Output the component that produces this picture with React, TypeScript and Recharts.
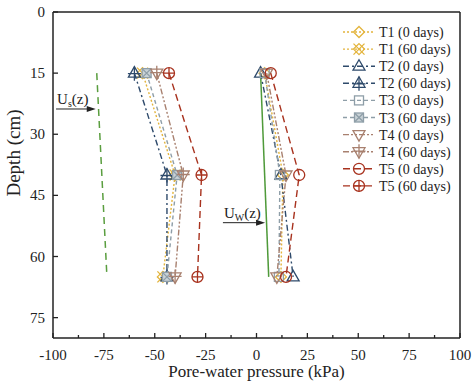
import React from 'react';
import { ComposedChart, Scatter, XAxis, YAxis, ReferenceLine, Legend } from 'recharts';

const FONT = '"Liberation Serif", "Times New Roman", serif';

const depths = [15, 40, 65];

// pore-water pressure (kPa) at each depth
const t1Day0 = [4, 13, 12];
const t1Day60 = [-56, -40, -46];
const t2Day0 = [2, 12, 18];
const t2Day60 = [-60, -44, -44];
const t3Day0 = [4, 11.5, 11];
const t3Day60 = [-54, -39, -44];
const t4Day0 = [5, 14.5, 10];
const t4Day60 = [-49, -36, -40];
const t5Day0 = [7, 21, 14.5];
const t5Day60 = [-43, -27, -29];

// U_s(z) and U_w(z) reference profiles
const usLine = [{ p: -78.5, d: 15 }, { p: -73.5, d: 65 }];
const uwLine = [{ p: 2, d: 15 }, { p: 6, d: 65 }];

const xTicks = [-100, -87.5, -75, -62.5, -50, -37.5, -25, -12.5, 0, 12.5, 25, 37.5, 50, 62.5, 75, 87.5, 100];
const yTicks = [0, 15, 30, 45, 60, 75];

type MarkerKind = 'diamond' | 'up' | 'square' | 'down' | 'circle';

interface SeriesDef {
  name: string;
  values: number[];
  color: string;
  dash: string;
  marker: MarkerKind;
  crossed: boolean;
}

const series: SeriesDef[] = [
  { name: 'T1 (0 days)', values: t1Day0, color: '#E3B43C', dash: '2 2', marker: 'diamond', crossed: false },
  { name: 'T1 (60 days)', values: t1Day60, color: '#E3B43C', dash: '2 2', marker: 'diamond', crossed: true },
  { name: 'T2 (0 days)', values: t2Day0, color: '#2E4A6B', dash: '6 3 2 3', marker: 'up', crossed: false },
  { name: 'T2 (60 days)', values: t2Day60, color: '#2E4A6B', dash: '6 3 2 3', marker: 'up', crossed: true },
  { name: 'T3 (0 days)', values: t3Day0, color: '#8E9EA8', dash: '4 3', marker: 'square', crossed: false },
  { name: 'T3 (60 days)', values: t3Day60, color: '#8E9EA8', dash: '4 3', marker: 'square', crossed: true },
  { name: 'T4 (0 days)', values: t4Day0, color: '#A8806F', dash: '6 2 2 2 2 2', marker: 'down', crossed: false },
  { name: 'T4 (60 days)', values: t4Day60, color: '#A8806F', dash: '6 2 2 2 2 2', marker: 'down', crossed: true },
  { name: 'T5 (0 days)', values: t5Day0, color: '#A8321E', dash: '7 4', marker: 'circle', crossed: false },
  { name: 'T5 (60 days)', values: t5Day60, color: '#A8321E', dash: '7 4', marker: 'circle', crossed: true },
];

const Marker: React.FC<{ cx?: number; cy?: number; kind: MarkerKind; crossed: boolean; color: string }> = ({ cx = 0, cy = 0, kind, crossed, color }) => {
  const s = 5.5;
  const common = { stroke: color, strokeWidth: 1.3, fill: 'none' };
  if (kind === 'diamond') {
    return (
      <g>
        <polygon points={`${cx},${cy - s} ${cx + s},${cy} ${cx},${cy + s} ${cx - s},${cy}`} {...common} />
        {crossed && <path d={`M${cx - s} ${cy - s}L${cx + s} ${cy + s}M${cx + s} ${cy - s}L${cx - s} ${cy + s}`} {...common} />}
      </g>
    );
  }
  if (kind === 'up') {
    return (
      <g>
        <polygon points={`${cx},${cy - s - 1} ${cx + s + 0.5},${cy + s - 1.5} ${cx - s - 0.5},${cy + s - 1.5}`} {...common} />
        {crossed && <path d={`M${cx} ${cy - s - 1}L${cx} ${cy + s + 2}M${cx - s - 1} ${cy + 0.5}L${cx + s + 1} ${cy + 0.5}`} {...common} />}
      </g>
    );
  }
  if (kind === 'down') {
    return (
      <g>
        <polygon points={`${cx},${cy + s + 1} ${cx + s + 0.5},${cy - s + 1.5} ${cx - s - 0.5},${cy - s + 1.5}`} {...common} />
        {crossed && <path d={`M${cx} ${cy - s - 2}L${cx} ${cy + s + 1}M${cx - s - 1} ${cy - 0.5}L${cx + s + 1} ${cy - 0.5}`} {...common} />}
      </g>
    );
  }
  if (kind === 'square') {
    return (
      <g>
        <rect x={cx - 4.5} y={cy - 4.5} width={9} height={9} {...common} fill={crossed ? '#C9D2D7' : 'none'} />
        {crossed && <path d={`M${cx - 4.5} ${cy - 4.5}L${cx + 4.5} ${cy + 4.5}M${cx + 4.5} ${cy - 4.5}L${cx - 4.5} ${cy + 4.5}`} {...common} />}
      </g>
    );
  }
  return (
    <g>
      <circle cx={cx} cy={cy} r={s} {...common} />
      {crossed && <path d={`M${cx} ${cy - s}L${cx} ${cy + s}M${cx - s} ${cy}L${cx + s} ${cy}`} {...common} />}
    </g>
  );
};

const XTick = (props: any) => {
  const { x, y, payload } = props;
  const major = payload.value % 25 === 0;
  return (
    <g>
      <line x1={x} y1={y} x2={x} y2={y - (major ? 5 : 3)} stroke="#222" strokeWidth={1.3} />
      {major && (
        <text x={x} y={y + 22} textAnchor="middle" fontSize={15} fontFamily={FONT} fill="#222">
          {payload.value}
        </text>
      )}
    </g>
  );
};

const YTick = (props: any) => {
  const { x, y, payload } = props;
  return (
    <g>
      <line x1={x} y1={y} x2={x + 5} y2={y} stroke="#222" strokeWidth={1.3} />
      <text x={x - 8} y={y + 5} textAnchor="end" fontSize={15} fontFamily={FONT} fill="#222">
        {payload.value}
      </text>
    </g>
  );
};

const Arrow = (props: any) => {
  const { x1, y1, x2, y2, sub } = props;
  return (
    <g>
      <line x1={x1} y1={y1} x2={x2 - 6} y2={y2} stroke="#222" strokeWidth={1} />
      <polygon points={`${x2},${y2} ${x2 - 9},${y2 - 3} ${x2 - 9},${y2 + 3}`} fill="#222" />
      <text x={x1 + 1} y={y1 - 5} fontSize={15} fontFamily={FONT} fill="#222">
        U<tspan fontSize={10} dy={3}>{sub}</tspan>
        <tspan dy={-3} fontSize={15}>(z)</tspan>
      </text>
    </g>
  );
};

const LegendBox = () => (
  <svg width={132} height={176} style={{ display: 'block' }}>
    {series.map((s, i) => {
      const y = 9 + i * 17.1;
      return (
        <g key={s.name}>
          <line x1={5} y1={y} x2={37} y2={y} stroke={s.color} strokeWidth={1.4} strokeDasharray={s.dash} />
          <Marker cx={21} cy={y} kind={s.marker} crossed={s.crossed} color={s.color} />
          <text x={41} y={y + 5} fontSize={14} fontFamily={FONT} fill="#222">
            {s.name}
          </text>
        </g>
      );
    })}
  </svg>
);

const App: React.FC = () => {
  return (
    <div style={{ position: 'absolute', left: 0, top: 0, width: 474, height: 381, background: '#fff' }}>
      <ComposedChart width={474} height={381} margin={{ top: 12, right: 14, left: 0, bottom: 0 }}>
        <XAxis
          dataKey="p"
          type="number"
          domain={[-100, 100]}
          ticks={xTicks}
          interval={0}
          tickSize={0}
          tickMargin={0}
          tickLine={false}
          tick={<XTick />}
          height={43}
          axisLine={{ stroke: '#222', strokeWidth: 1.5 }}
          label={{ value: 'Pore-water pressure (kPa)', position: 'insideBottom', offset: 4, fontSize: 17, fontFamily: FONT, fill: '#222' }}
        />
        <YAxis
          dataKey="d"
          type="number"
          domain={[0, 80]}
          reversed
          ticks={yTicks}
          interval={0}
          tickSize={0}
          tickMargin={0}
          tickLine={false}
          tick={<YTick />}
          width={53}
          axisLine={{ stroke: '#222', strokeWidth: 1.5 }}
          label={{
            content: (p: any) => {
              const vb = p.viewBox;
              const cx = 13;
              const cy = vb.y + vb.height / 2 - 22;
              return (
                <text x={cx} y={cy} transform={`rotate(-90 ${cx} ${cy})`} textAnchor="middle" dominantBaseline="central" fontSize={19} fontFamily={FONT} fill="#222">
                  Depth (cm)
                </text>
              );
            },
          }}
        />
        <ReferenceLine y={0} stroke="#222" strokeWidth={1.5} />
        <ReferenceLine x={100} stroke="#222" strokeWidth={1.5} />

        <Scatter
          data={usLine}
          fill="#5A9E3F"
          line={{ stroke: '#5A9E3F', strokeWidth: 1.5, strokeDasharray: '7 5' }}
          shape={() => <g />}
          isAnimationActive={false}
        />
        <Scatter
          data={uwLine}
          fill="#4F9A3A"
          line={{ stroke: '#4F9A3A', strokeWidth: 1.5 }}
          shape={() => <g />}
          isAnimationActive={false}
        />

        {series.map((s) => (
          <Scatter
            key={s.name}
            name={s.name}
            data={depths.map((d, i) => ({ p: s.values[i], d }))}
            fill={s.color}
            line={{ stroke: s.color, strokeWidth: 1.4, strokeDasharray: s.dash }}
            shape={(props: any) => <Marker cx={props.cx} cy={props.cy} kind={s.marker} crossed={s.crossed} color={s.color} />}
            isAnimationActive={false}
          />
        ))}

        <ReferenceLine
          segment={[{ x: -98.5, y: 23.8 }, { x: -79, y: 23.8 }]}
          shape={(p: any) => <Arrow {...p} sub="s" />}
        />
        <ReferenceLine
          segment={[{ x: -16.5, y: 51.7 }, { x: 4.2, y: 51.7 }]}
          shape={(p: any) => <Arrow {...p} sub="W" />}
        />

        <Legend
          layout="vertical"
          align="center"
          verticalAlign="middle"
          content={() => <LegendBox />}
          wrapperStyle={{ position: 'absolute', left: 338, top: 23, width: 132, height: 176 }}
        />
      </ComposedChart>
    </div>
  );
};

export default App;
